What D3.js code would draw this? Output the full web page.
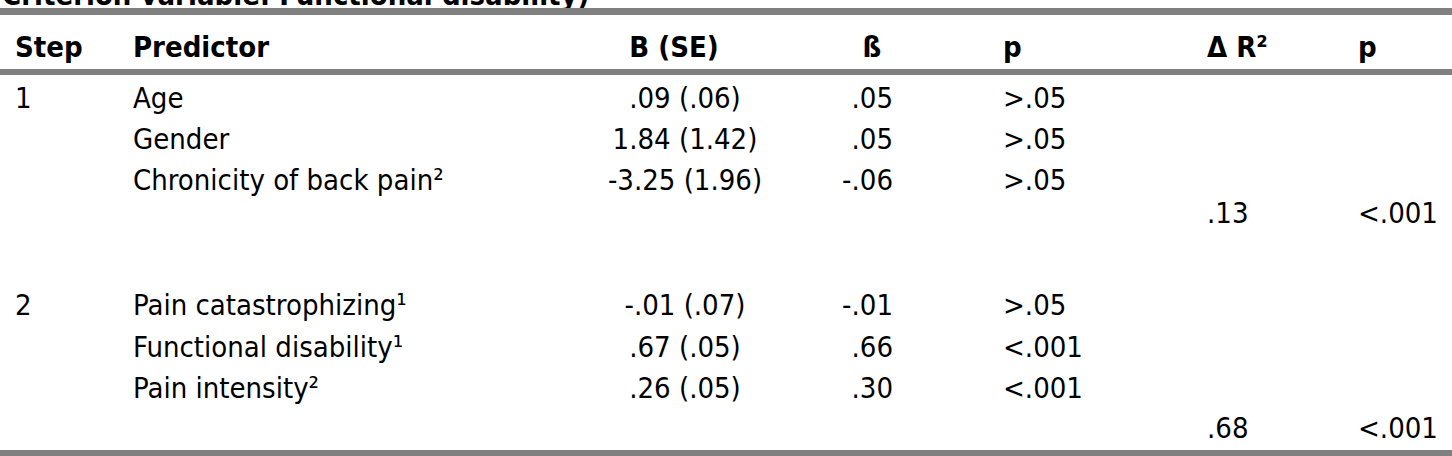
<!DOCTYPE html>
<html><head><meta charset="utf-8">
<script src="https://cdn.jsdelivr.net/npm/d3@7"></script>
<style>body{margin:0;background:#fff}</style>
</head><body>
<div id="chart"></div>
<script>
const W = 1452, H = 456;
const title = 'Criterion variable: Functional disability)';
const headers = ['Step', 'Predictor', 'B (SE)', 'ß', 'p', 'Δ R²', 'p'];
const steps = ['1', '', '', '', '2', '', '', ''];
const predictors = ['Age', 'Gender', 'Chronicity of back pain²', '', 'Pain catastrophizing¹', 'Functional disability¹', 'Pain intensity²', ''];
const bse = ['.09 (.06)', '1.84 (1.42)', '-3.25 (1.96)', '', '-.01 (.07)', '.67 (.05)', '.26 (.05)', ''];
const beta = ['.05', '.05', '-.06', '', '-.01', '.66', '.30', ''];
const pvals = ['>.05', '>.05', '>.05', '', '>.05', '<.001', '<.001', ''];
const dR2 = ['', '', '', '.13', '', '', '', '.68'];
const pR2 = ['', '', '', '<.001', '', '', '', '<.001'];
const baselines = [108, 149, 190, 223, 315, 357, 398, 438];

const fs = 29;
const svg = d3.select('#chart').append('svg')
  .attr('width', W).attr('height', H)
  .style('font-family', '"DejaVu Sans Condensed", "DejaVu Sans", sans-serif');

// title, mostly cut off at the top (as in the source)
svg.append('text').attr('x', 2).attr('y', 5)
  .attr('font-size', fs).attr('font-weight', 'bold').text(title);

// rules
[[8, 7], [69, 6], [450, 6]].forEach(function(r){
  svg.append('rect').attr('x', 0).attr('y', r[0])
    .attr('width', W).attr('height', r[1]).attr('fill', '#808080');
});

const hcols = [[15, 'start'], [133, 'start'], [674, 'middle'], [872, 'middle'], [1003, 'start'], [1207, 'start'], [1358, 'start']];
const cols = [
  {data: steps, x: 15, anchor: 'start'},
  {data: predictors, x: 133, anchor: 'start'},
  {data: bse, x: 685, anchor: 'middle'},
  {data: beta, x: 893, anchor: 'end'},
  {data: pvals, x: 1003, anchor: 'start'},
  {data: dR2, x: 1207, anchor: 'start'},
  {data: pR2, x: 1358, anchor: 'start'}
];

svg.selectAll('.head').data(headers).enter().append('text')
  .attr('class', 'head')
  .attr('x', (d, i) => hcols[i][0]).attr('y', 57)
  .attr('text-anchor', (d, i) => hcols[i][1])
  .attr('font-size', fs).attr('font-weight', 'bold').text(d => d);

cols.forEach(function(c){
  svg.append('g').selectAll('text').data(c.data).enter().append('text')
    .attr('x', c.x).attr('y', (d, i) => baselines[i])
    .attr('text-anchor', c.anchor)
    .attr('font-size', fs).attr('fill', '#000').text(d => d);
});
</script>
</body></html>
